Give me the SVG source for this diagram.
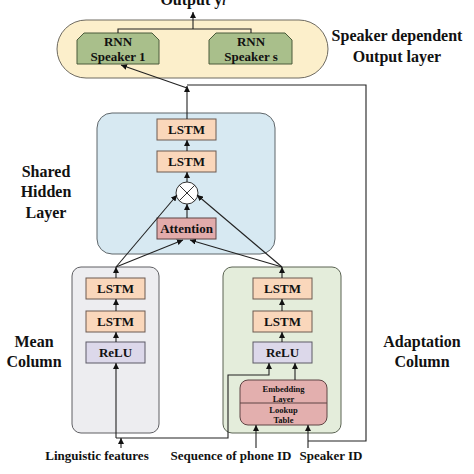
<svg xmlns="http://www.w3.org/2000/svg" width="474" height="474" viewBox="0 0 474 474">
<style>
text{font-family:"Liberation Serif","Times New Roman",serif;font-weight:bold;fill:#111;text-anchor:middle}
.lbl{font-size:16px}
.in{font-size:13px}
.box{font-size:13px}
.small{font-size:8.5px}
.lstm{fill:#fad7bb;stroke:#6d5a50;stroke-width:1}
.relu{fill:#dcd8ea;stroke:#5d5a66;stroke-width:1}
.att{fill:#e2abab;stroke:#5e4444;stroke-width:1}
.rnn{fill:#a9bf8b;stroke:#4a5a3a;stroke-width:1}
.c{fill:none;stroke:#222;stroke-width:1.1}
.ca{fill:none;stroke:#222;stroke-width:1.1;marker-end:url(#ah)}
</style>
<defs>
<marker id="ah" viewBox="0 0 10 10" refX="10" refY="5" markerWidth="6" markerHeight="6" markerUnits="userSpaceOnUse" orient="auto">
<path d="M0,0 L10,5 L0,10 z" fill="#111"/>
</marker>
</defs>
<rect width="474" height="474" fill="#ffffff"/>

<text class="lbl" x="193" y="5">Output y<tspan font-style="italic" font-size="12">i</tspan></text>

<g id="output-layer">
<rect x="57" y="20" width="271" height="58" rx="29" ry="29" fill="#fcefcb" stroke="#6e6a60" stroke-width="1"/>
<text class="lbl" x="397" y="41">Speaker dependent</text>
<text class="lbl" x="397" y="62">Output layer</text>
</g>
<g id="rnn-speaker-1">
<polygon class="rnn" points="77,64 77,40 84,33 152,33 159,40 159,64"/>
<text class="box" x="118" y="46">RNN</text>
<text class="box" x="118" y="61">Speaker 1</text>
</g>
<g id="rnn-speaker-s">
<polygon class="rnn" points="209,64 209,40 216,33 285,33 292,40 292,64"/>
<text class="box" x="251" y="46">RNN</text>
<text class="box" x="251" y="61">Speaker s</text>
</g>

<g id="shared-hidden-layer">
<rect x="97" y="113" width="178" height="141" rx="15" ry="15" fill="#d7e9f2" stroke="#5f666a" stroke-width="1"/>
<text class="lbl" x="46" y="177">Shared</text>
<text class="lbl" x="46" y="197">Hidden</text>
<text class="lbl" x="46" y="218">Layer</text>
</g>
<g id="shared-lstm-1">
<rect class="lstm" x="157" y="119" width="59" height="21"/>
<text class="box" x="186.5" y="134">LSTM</text>
</g>
<g id="shared-lstm-2">
<rect class="lstm" x="157" y="151" width="59" height="21"/>
<text class="box" x="186.5" y="166">LSTM</text>
</g>
<g id="multiply">
<circle cx="187" cy="193" r="11" fill="#ffffff" stroke="#333" stroke-width="1"/>
<path d="M179.2,185.2 L194.8,200.8 M194.8,185.2 L179.2,200.8" stroke="#333" stroke-width="1"/>
</g>
<g id="attention">
<rect class="att" x="157" y="218" width="59" height="21"/>
<text class="box" x="186.5" y="233">Attention</text>
</g>

<g id="mean-column">
<rect x="72" y="267" width="87" height="166" rx="9" ry="9" fill="#ededf0" stroke="#5f5f63" stroke-width="1"/>
<text class="lbl" x="34" y="347">Mean</text>
<text class="lbl" x="34" y="367">Column</text>
</g>
<g id="mean-lstm-1">
<rect class="lstm" x="86" y="278" width="59" height="21"/>
<text class="box" x="115.5" y="293">LSTM</text>
</g>
<g id="mean-lstm-2">
<rect class="lstm" x="86" y="311" width="59" height="21"/>
<text class="box" x="115.5" y="326">LSTM</text>
</g>
<g id="mean-relu">
<rect class="relu" x="86" y="342" width="59" height="21"/>
<text class="box" x="115.5" y="357">ReLU</text>
</g>

<g id="adaptation-column">
<rect x="223" y="267" width="118" height="166" rx="9" ry="9" fill="#e4eddb" stroke="#5a6352" stroke-width="1"/>
<text class="lbl" x="422" y="347">Adaptation</text>
<text class="lbl" x="422" y="367">Column</text>
</g>
<g id="adapt-lstm-1">
<rect class="lstm" x="253" y="278" width="59" height="21"/>
<text class="box" x="282.5" y="293">LSTM</text>
</g>
<g id="adapt-lstm-2">
<rect class="lstm" x="253" y="311" width="59" height="21"/>
<text class="box" x="282.5" y="326">LSTM</text>
</g>
<g id="adapt-relu">
<rect class="relu" x="253" y="342" width="59" height="21"/>
<text class="box" x="282.5" y="357">ReLU</text>
</g>
<g id="embedding">
<rect x="240" y="380" width="87" height="45" rx="8" ry="8" fill="#e3afae" stroke="#5e4444" stroke-width="1"/>
<line x1="240" y1="403" x2="327" y2="403" stroke="#5e4444" stroke-width="1"/>
<text class="small" x="283.5" y="392">Embedding</text>
<text class="small" x="283.5" y="401.5">Layer</text>
<text class="small" x="283.5" y="413">Lookup</text>
<text class="small" x="283.5" y="423">Table</text>
</g>

<g id="inputs">
<text class="in" x="97" y="460">Linguistic features</text>
<text class="in" x="231" y="460">Sequence of phone ID</text>
<text class="in" x="331" y="460">Speaker ID</text>
</g>

<g id="connectors">
<path class="ca" d="M193,29 V12"/>
<path class="c" d="M118,33 V29 H251 V33"/>
<path class="ca" d="M187,119 V86"/>
<path class="c" d="M308,441 H366 V85 H187"/>
<path class="ca" d="M187,88 L121,65"/>
<path class="ca" d="M187,151 V140"/>
<path class="ca" d="M187,182 V172"/>
<path class="ca" d="M187,218 V204"/>
<path class="ca" d="M116,267 L177,195"/>
<path class="ca" d="M116,267 L183,240"/>
<path class="ca" d="M282,267 L197,195"/>
<path class="ca" d="M282,267 L190,240"/>
<path class="ca" d="M116,278 V267"/>
<path class="ca" d="M116,311 V299"/>
<path class="ca" d="M116,342 V332"/>
<path class="ca" d="M282,278 V267"/>
<path class="ca" d="M282,311 V299"/>
<path class="ca" d="M282,342 V332"/>
<path class="ca" d="M116,438 V363"/>
<path class="ca" d="M116,438 H228 V375 H269 V363"/>
<path class="ca" d="M121,448 V438"/>
<path class="ca" d="M295,380 V363"/>
<path class="ca" d="M256,448 V425"/>
<path class="ca" d="M308,448 V425"/>
</g>
</svg>
